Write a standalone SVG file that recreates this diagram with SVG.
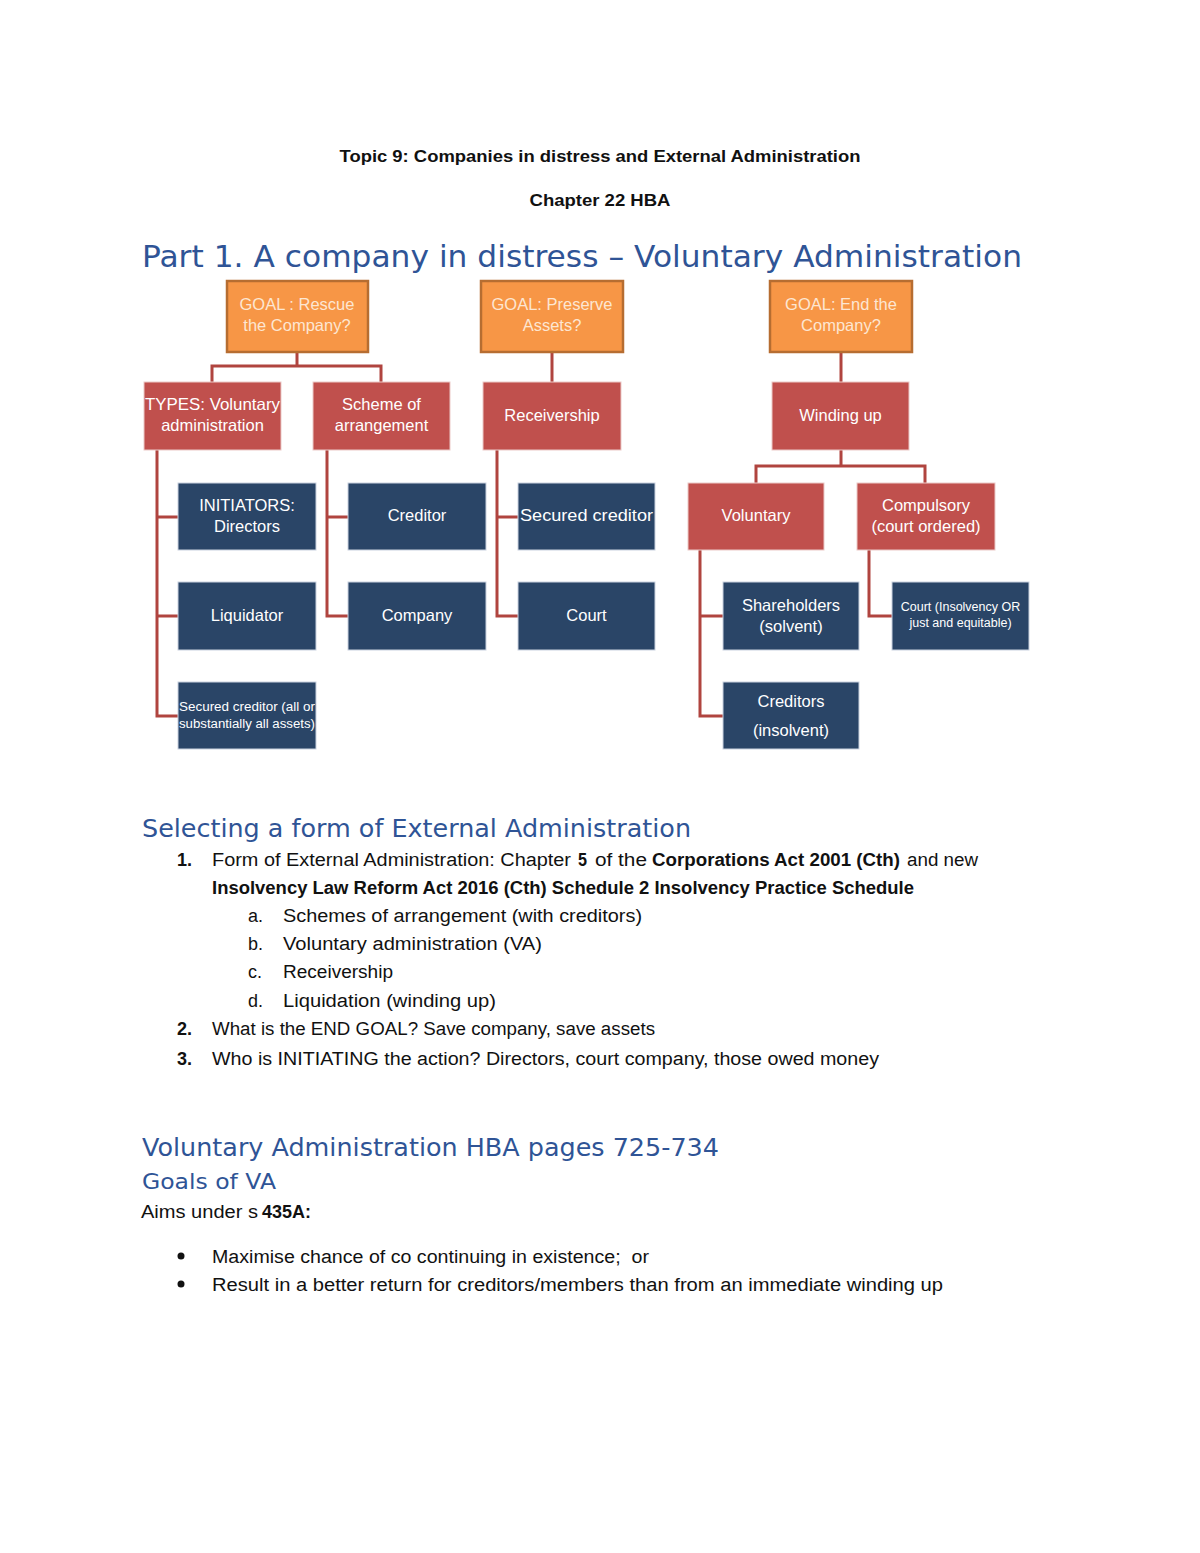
<svg xmlns="http://www.w3.org/2000/svg" width="1200" height="1553" viewBox="0 0 1200 1553">
<style>
  .bg{fill:#ffffff}
  .goal{fill:#F79646;stroke:#B66D31;stroke-width:2.5}
  .red{fill:#C0504D;stroke:#EBC9C8;stroke-width:1}
  .navy{fill:#2A4567;stroke:#C9D2DF;stroke-width:1}
  .conn{fill:none;stroke:#B0443F;stroke-width:3}
  .gt{font-family:"Liberation Sans",Arial,sans-serif;font-size:16.5px;fill:#FDE6D2;text-anchor:middle}
  .bt{font-family:"Liberation Sans",Arial,sans-serif;font-size:16.5px;fill:#FFFFFF;text-anchor:middle}
  .st{font-family:"Liberation Sans",Arial,sans-serif;font-size:12.5px;fill:#FFFFFF;text-anchor:middle}
  .title{font-family:"Liberation Sans",Arial,sans-serif;font-weight:bold;font-size:17px;fill:#111111;text-anchor:middle}
  .h1{font-family:"DejaVu Sans",sans-serif;font-size:31px;fill:#2F5496}
  .h2{font-family:"DejaVu Sans",sans-serif;font-size:24px;fill:#2F5496}
  .h3{font-family:"DejaVu Sans",sans-serif;font-size:21px;fill:#2F5496}
  .body{font-family:"Liberation Sans",Arial,sans-serif;font-size:18px;fill:#111111;white-space:pre}
  .b{font-weight:bold}
</style>
<rect class="bg" x="0" y="0" width="1200" height="1553"/>

<text class="title" x="600" y="162" textLength="521" lengthAdjust="spacingAndGlyphs">Topic 9: Companies in distress and External Administration</text>
<text class="title" x="600" y="206" textLength="141" lengthAdjust="spacingAndGlyphs">Chapter 22 HBA</text>
<text class="h1" x="142" y="267" textLength="880" lengthAdjust="spacingAndGlyphs">Part 1. A company in distress – Voluntary Administration</text>

<g id="connectors">
  <path class="conn" d="M297 352 V366 M212 383 V366 H381 V383"/>
  <path class="conn" d="M552 352 V383"/>
  <path class="conn" d="M841 352 V383"/>
  <path class="conn" d="M841 450 V466 M756 483 V466 H925 V483"/>
  <path class="conn" d="M157 450 V716 H178 M157 517 H178 M157 616 H178"/>
  <path class="conn" d="M327 450 V616 H348 M327 517 H348"/>
  <path class="conn" d="M497 450 V616 H518 M497 517 H518"/>
  <path class="conn" d="M700 550 V716 H723 M700 616 H723"/>
  <path class="conn" d="M869 550 V616 H892"/>
</g>

<g id="goal-rescue">
  <rect class="goal" x="227" y="281" width="141" height="71"/>
  <text class="gt" x="297" y="310">GOAL : Rescue</text>
  <text class="gt" x="297" y="331">the Company?</text>
</g>
<g id="goal-preserve">
  <rect class="goal" x="481" y="281" width="142" height="71"/>
  <text class="gt" x="552" y="310">GOAL: Preserve</text>
  <text class="gt" x="552" y="331">Assets?</text>
</g>
<g id="goal-end">
  <rect class="goal" x="770" y="281" width="142" height="71"/>
  <text class="gt" x="841" y="310">GOAL: End the</text>
  <text class="gt" x="841" y="331">Company?</text>
</g>

<g id="types-va">
  <rect class="red" x="144" y="382" width="137" height="68"/>
  <text class="bt" x="212.5" y="410" textLength="135" lengthAdjust="spacingAndGlyphs">TYPES: Voluntary</text>
  <text class="bt" x="212.5" y="431">administration</text>
</g>
<g id="scheme">
  <rect class="red" x="313" y="382" width="137" height="68"/>
  <text class="bt" x="381.5" y="410">Scheme of</text>
  <text class="bt" x="381.5" y="431">arrangement</text>
</g>
<g id="receivership">
  <rect class="red" x="483" y="382" width="138" height="68"/>
  <text class="bt" x="552" y="421">Receivership</text>
</g>
<g id="winding-up">
  <rect class="red" x="772" y="382" width="137" height="68"/>
  <text class="bt" x="840.5" y="421" font-size="17.5">Winding up</text>
</g>

<g id="initiators">
  <rect class="navy" x="178" y="483" width="138" height="67"/>
  <text class="bt" x="247" y="511">INITIATORS:</text>
  <text class="bt" x="247" y="532">Directors</text>
</g>
<g id="liquidator">
  <rect class="navy" x="178" y="582" width="138" height="68"/>
  <text class="bt" x="247" y="621">Liquidator</text>
</g>
<g id="secured-creditor-all">
  <rect class="navy" x="178" y="682" width="138" height="67"/>
  <text class="st" x="247" y="711" textLength="136" lengthAdjust="spacingAndGlyphs">Secured creditor (all or</text>
  <text class="st" x="247" y="728" textLength="136" lengthAdjust="spacingAndGlyphs">substantially all assets)</text>
</g>
<g id="creditor">
  <rect class="navy" x="348" y="483" width="138" height="67"/>
  <text class="bt" x="417" y="521">Creditor</text>
</g>
<g id="company">
  <rect class="navy" x="348" y="582" width="138" height="68"/>
  <text class="bt" x="417" y="621">Company</text>
</g>
<g id="secured-creditor">
  <rect class="navy" x="518" y="483" width="137" height="67"/>
  <text class="bt" x="586.5" y="521" textLength="133" lengthAdjust="spacingAndGlyphs">Secured creditor</text>
</g>
<g id="court">
  <rect class="navy" x="518" y="582" width="137" height="68"/>
  <text class="bt" x="586.5" y="621">Court</text>
</g>

<g id="voluntary">
  <rect class="red" x="688" y="483" width="136" height="67"/>
  <text class="bt" x="756" y="521">Voluntary</text>
</g>
<g id="compulsory">
  <rect class="red" x="857" y="483" width="138" height="67"/>
  <text class="bt" x="926" y="511">Compulsory</text>
  <text class="bt" x="926" y="532">(court ordered)</text>
</g>
<g id="shareholders">
  <rect class="navy" x="723" y="582" width="136" height="68"/>
  <text class="bt" x="791" y="611">Shareholders</text>
  <text class="bt" x="791" y="632">(solvent)</text>
</g>
<g id="creditors-insolvent">
  <rect class="navy" x="723" y="682" width="136" height="67"/>
  <text class="bt" x="791" y="707">Creditors</text>
  <text class="bt" x="791" y="736">(insolvent)</text>
</g>
<g id="court-insolvency">
  <rect class="navy" x="892" y="582" width="137" height="68"/>
  <text class="st" x="960.5" y="611" font-size="12">Court (Insolvency OR</text>
  <text class="st" x="960.5" y="627" font-size="12">just and equitable)</text>
</g>

<text class="h2" x="142" y="837" textLength="549" lengthAdjust="spacingAndGlyphs">Selecting a form of External Administration</text>

<text class="body b" x="177" y="866">1.</text>
<text class="body" x="212" y="866" textLength="359" lengthAdjust="spacingAndGlyphs">Form of External Administration: Chapter</text>
<text class="body b" x="578" y="866" textLength="9" lengthAdjust="spacingAndGlyphs">5</text>
<text class="body" x="595" y="866" textLength="52" lengthAdjust="spacingAndGlyphs">of the</text>
<text class="body b" x="652" y="866" textLength="248" lengthAdjust="spacingAndGlyphs">Corporations Act 2001 (Cth)</text>
<text class="body" x="907" y="866" textLength="71" lengthAdjust="spacingAndGlyphs">and new</text>
<text class="body b" x="212" y="894" textLength="702" lengthAdjust="spacingAndGlyphs">Insolvency Law Reform Act 2016 (Cth) Schedule 2 Insolvency Practice Schedule</text>

<text class="body" x="248" y="922">a.</text>
<text class="body" x="283" y="922" textLength="359" lengthAdjust="spacingAndGlyphs">Schemes of arrangement (with creditors)</text>
<text class="body" x="248" y="950">b.</text>
<text class="body" x="283" y="950" textLength="259" lengthAdjust="spacingAndGlyphs">Voluntary administration (VA)</text>
<text class="body" x="248" y="978">c.</text>
<text class="body" x="283" y="978" textLength="110" lengthAdjust="spacingAndGlyphs">Receivership</text>
<text class="body" x="248" y="1007">d.</text>
<text class="body" x="283" y="1007" textLength="213" lengthAdjust="spacingAndGlyphs">Liquidation (winding up)</text>

<text class="body b" x="177" y="1035">2.</text>
<text class="body" x="212" y="1035" textLength="443" lengthAdjust="spacingAndGlyphs">What is the END GOAL? Save company, save assets</text>
<text class="body b" x="177" y="1065">3.</text>
<text class="body" x="212" y="1065" textLength="667" lengthAdjust="spacingAndGlyphs">Who is INITIATING the action? Directors, court company, those owed money</text>

<text class="h2" x="142" y="1156" textLength="577" lengthAdjust="spacingAndGlyphs">Voluntary Administration HBA pages 725-734</text>
<text class="h3" x="142" y="1189" textLength="134" lengthAdjust="spacingAndGlyphs">Goals of VA</text>

<text class="body" x="141" y="1218" textLength="117" lengthAdjust="spacingAndGlyphs">Aims under s</text>
<text class="body b" x="262" y="1218" textLength="49" lengthAdjust="spacingAndGlyphs">435A:</text>

<circle cx="181" cy="1256" r="3.5" fill="#111111"/>
<text class="body" x="212" y="1263" textLength="437" lengthAdjust="spacingAndGlyphs">Maximise chance of co continuing in existence;  or</text>
<circle cx="181" cy="1284" r="3.5" fill="#111111"/>
<text class="body" x="212" y="1291" textLength="731" lengthAdjust="spacingAndGlyphs">Result in a better return for creditors/members than from an immediate winding up</text>
</svg>
